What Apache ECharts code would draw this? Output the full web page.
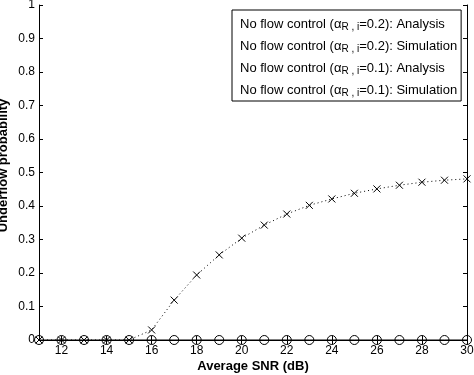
<!DOCTYPE html>
<html>
<head>
<meta charset="utf-8">
<script src="https://cdn.jsdelivr.net/npm/echarts@6.0.0/dist/echarts.min.js"></script>
<style>
  html, body { margin: 0; padding: 0; background: #fff; }
  #chart { width: 474px; height: 375px; }
</style>
</head>
<body>
<div id="chart"></div>
<script>
// SNR points (dB)
const snr = [11, 12, 13, 14, 15, 16, 17, 18, 19, 20, 21, 22, 23, 24, 25, 26, 27, 28, 29, 30]
// alpha = 0.2 : no underflow at all
const ana02 = [0, 0, 0, 0, 0, 0, 0, 0, 0, 0, 0, 0, 0, 0, 0, 0, 0, 0, 0, 0]
const sim02 = [0, 0, 0, 0, 0, 0, 0, 0, 0, 0, 0, 0, 0, 0, 0, 0, 0, 0, 0, 0]
// alpha = 0.1
const ana01 = [0, 0, 0, 0, 0, 0.03, 0.119, 0.194, 0.254, 0.304, 0.343, 0.376, 0.402, 0.421, 0.438, 0.451, 0.462, 0.471, 0.477, 0.481]
const sim01 = [0, 0, 0, 0, 0, 0.03, 0.119, 0.194, 0.254, 0.304, 0.343, 0.376, 0.402, 0.421, 0.438, 0.451, 0.462, 0.471, 0.477, 0.481]
const xTicks = [12, 14, 16, 18, 20, 22, 24, 26, 28, 30]

const names = [
  'No flow control (a=0.2): Analysis',
  'No flow control (a=0.2): Simulation',
  'No flow control (a=0.1): Analysis',
  'No flow control (a=0.1): Simulation'
]
// legend text with subscript
const legendText = {}
legendText[names[0]] = '{t|No flow control (α}{s|R , i}{t|=0.2): Analysis}'
legendText[names[1]] = '{t|No flow control (α}{s|R , i}{t|=0.2): Simulation}'
legendText[names[2]] = '{t|No flow control (α}{s|R , i}{t|=0.1): Analysis}'
legendText[names[3]] = '{t|No flow control (α}{s|R , i}{t|=0.1): Simulation}'

const pair = (ys) => snr.map((x, i) => [x, ys[i]])
const font = 'Liberation Sans, Arial, sans-serif'
const crossPath = 'path://M0,0L10,10M10,0L0,10'

const chart = echarts.init(document.getElementById('chart'))

const boxAxis = {
  axisLine: { show: true, lineStyle: { color: '#000', width: 1 } },
  axisTick: { show: true, inside: true, length: 4, lineStyle: { color: '#000' } },
  splitLine: { show: false }
}

chart.setOption({
  backgroundColor: '#fff',
  animation: false,
  textStyle: { fontFamily: font },
  grid: { left: 39, right: 7, top: 5, bottom: 35, containLabel: false, outerBoundsMode: 'none' },
  legend: {
    left: 232,
    top: 10,
    width: 235,
    orient: 'vertical',
    backgroundColor: '#fff',
    borderColor: '#000',
    borderWidth: 1,
    borderRadius: 0,
    padding: [6, 4, 3, 3],
    itemGap: 6,
    itemWidth: 0,
    itemHeight: 8,
    data: names.map((n) => ({ name: n, icon: 'none' })),
    formatter: (n) => legendText[n],
    textStyle: {
      color: '#000',
      rich: {
        t: { fontSize: 13, fontFamily: font, color: '#000', lineHeight: 14 },
        s: { fontSize: 10, fontFamily: font, color: '#000', padding: [6, 0, 0, 0], lineHeight: 12 }
      }
    }
  },
  xAxis: [
    Object.assign({}, boxAxis, {
      type: 'value',
      min: 11,
      max: 30,
      interval: 1,
      position: 'bottom',
      name: 'Average SNR (dB)',
      nameLocation: 'middle',
      nameGap: 20,
      nameMoveOverlap: false,
      nameTextStyle: { color: '#000', fontWeight: 'bold', fontSize: 13 },
      axisTick: { show: true, inside: true, length: 4, lineStyle: { color: '#000' }, customValues: xTicks },
      axisLabel: { color: '#000', fontSize: 12, margin: 5, customValues: xTicks }
    }),
    Object.assign({}, boxAxis, {
      type: 'value',
      min: 11,
      max: 30,
      position: 'top',
      axisTick: { show: true, inside: true, length: 4, lineStyle: { color: '#000' }, customValues: xTicks },
      axisLabel: { show: false }
    })
  ],
  yAxis: [
    Object.assign({}, boxAxis, {
      type: 'value',
      min: 0,
      max: 1,
      interval: 0.1,
      position: 'left',
      name: 'Underflow probability',
      nameLocation: 'middle',
      nameGap: 29,
      nameMoveOverlap: false,
      nameTextStyle: { color: '#000', fontWeight: 'bold', fontSize: 13, padding: [0, 0, 0, 14] },
      axisLabel: { color: '#000', fontSize: 12, margin: 4, formatter: (v) => String(+v.toFixed(1)) }
    }),
    Object.assign({}, boxAxis, {
      type: 'value',
      min: 0,
      max: 1,
      interval: 0.1,
      position: 'right',
      axisLabel: { show: false }
    })
  ],
  series: [
    {
      name: names[0],
      type: 'line',
      data: pair(ana02),
      showSymbol: false,
      symbol: 'none',
      lineStyle: { color: '#000', width: 1 },
      itemStyle: { color: '#000' },
      z: 3
    },
    {
      name: names[1],
      type: 'line',
      data: pair(sim02),
      symbol: 'circle',
      symbolSize: 9,
      lineStyle: { width: 0, opacity: 0 },
      itemStyle: { color: 'rgba(0,0,0,0)', borderColor: '#000', borderWidth: 1 },
      z: 4
    },
    {
      name: names[2],
      type: 'line',
      data: pair(ana01),
      showSymbol: false,
      symbol: 'none',
      lineStyle: { color: '#000', width: 1, type: [1, 3] },
      itemStyle: { color: '#000' },
      z: 3
    },
    {
      name: names[3],
      type: 'line',
      data: pair(sim01),
      symbol: crossPath,
      symbolSize: 7,
      lineStyle: { width: 0, opacity: 0 },
      itemStyle: { color: 'rgba(0,0,0,0)', borderColor: '#000', borderWidth: 1 },
      z: 5
    }
  ]
})
</script>
</body>
</html>
